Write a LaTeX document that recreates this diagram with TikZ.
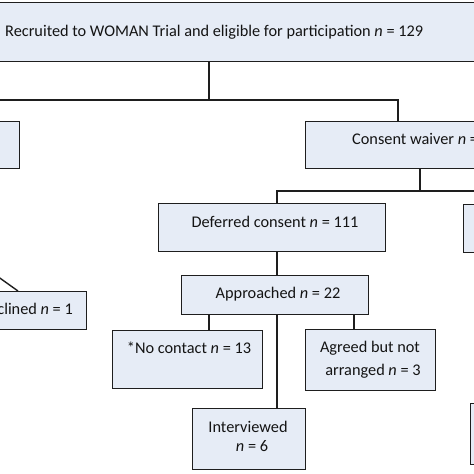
\documentclass[tikz,border=0pt]{standalone}
\usepackage{fontspec}
\setmainfont{Carlito}
\definecolor{bf}{RGB}{230,236,246}
\definecolor{lc}{RGB}{30,30,30}
\definecolor{tc}{RGB}{20,20,20}
\begin{document}
\begin{tikzpicture}[x=1pt,y=-1pt,
  box/.style={draw=lc, fill=bf, line width=1.4pt, inner sep=0pt, anchor=north west},
  txt/.style={font=\fontsize{16.3}{19}\selectfont, inner sep=0pt, text=tc},
  con/.style={draw=lc, line width=1.4pt}]
\useasboundingbox (0,0) rectangle (474,474);
\fill[white] (0,0) rectangle (474,474);
% boxes
\node[box, minimum width=500pt, minimum height=59pt] (top) at (-10,2) {};
\node[box, minimum width=60pt, minimum height=47pt] (lb) at (-41,121) {};
\node[box, minimum width=200pt, minimum height=47pt] (cw) at (305,121) {};
\node[box, minimum width=60pt, minimum height=48pt] (rb) at (463,204) {};
\node[box, minimum width=227pt, minimum height=48pt] (def) at (158,203) {};
\node[box, minimum width=187pt, minimum height=39pt] (app) at (181,275) {};
\node[box, minimum width=120pt, minimum height=38pt] (dec) at (-34,291) {};
\node[box, minimum width=150pt, minimum height=58pt] (nc) at (112,330) {};
\node[box, minimum width=130pt, minimum height=61pt] (agr) at (305,329) {};
\node[box, minimum width=113pt, minimum height=61pt] (int) at (192,408) {};
\node[box, minimum width=60pt, minimum height=61pt] (rb2) at (470,403) {};
% texts
\node[txt, anchor=base west] (ttop) at (5,36) {Recruited to WOMAN Trial and eligible for participation \textit{n} = 129};
\node[txt, anchor=base west] (tcw) at (352,144) {Consent waiver \textit{n} =};
\node[txt, anchor=base] (tdef) at (275,227) {Deferred consent \textit{n} = 111};
\node[txt, anchor=base] (tapp) at (278,298) {Approached \textit{n} = 22};
\node[txt, anchor=base east] (tdec) at (73,314) {Declined \textit{n} = 1};
\node[txt, anchor=base] (tnc) at (189,353) {*No contact \textit{n} = 13};
\node[txt, anchor=base] (tagr1) at (370,352) {Agreed but not};
\node[txt, anchor=base] (tagr2) at (373,375) {arranged \textit{n} = 3};
\node[txt, anchor=base] (tint1) at (248,432) {Interviewed};
\node[txt, anchor=base] (tint2) at (252,451) {\textit{n} = 6};
% junctions
\coordinate (j1) at (209,100);
\coordinate (jl) at (-10,100);
\coordinate (jr) at (398,100);
\coordinate (j2) at (420,191);
\coordinate (j2l) at (277,191);
\coordinate (j2r) at (490,191);
\coordinate (dg) at (-10,271);
\coordinate (dd) at (18,291);
% connectors
\draw[con] (top.south -| j1) -- (j1);
\draw[con] (jl) -- (jr) -- (cw.north -| jr);
\draw[con] (cw.south -| j2) -- (j2);
\draw[con] (j2r) -- (j2l) -- (def.north -| j2l);
\draw[con] (def.south -| j2l) -- (app.north -| j2l);
\draw[con] (dg) -- (dd);
\coordinate (a1) at (209,0);
\coordinate (a3) at (354,0);
\draw[con] (app.south -| a1) -- (nc.north -| a1);
\draw[con] (app.south -| j2l) -- (int.north -| j2l);
\draw[con] (app.south -| a3) -- (agr.north -| a3);
\end{tikzpicture}
\end{document}
